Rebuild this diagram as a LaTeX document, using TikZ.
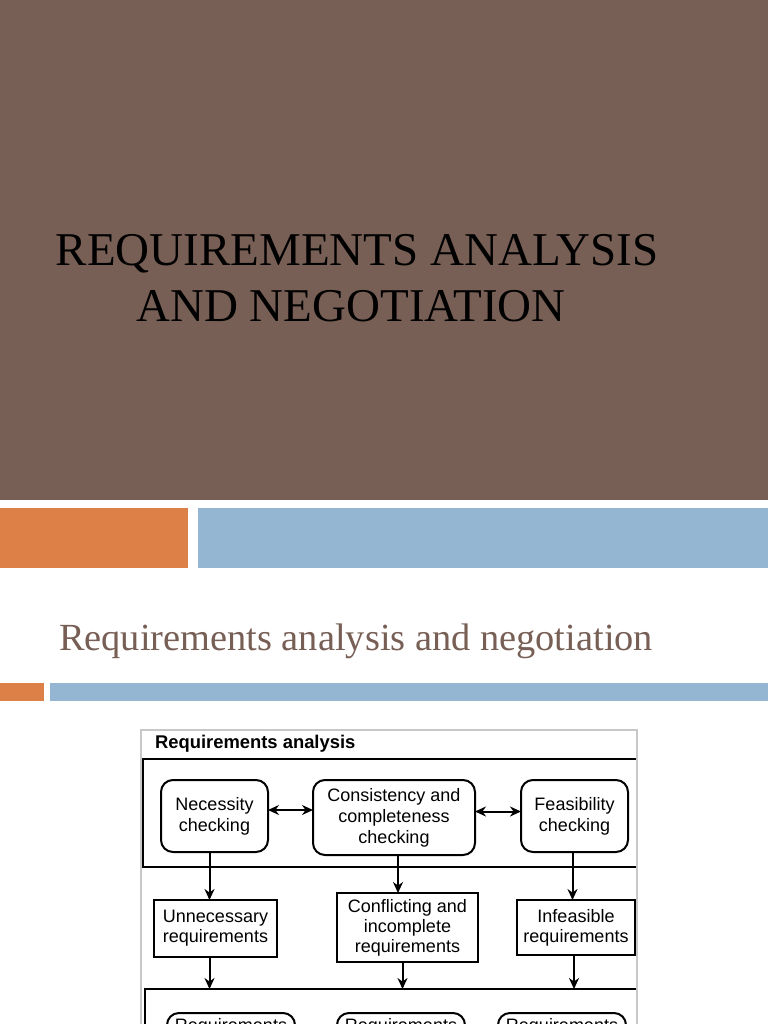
\documentclass[tikz,border=0pt]{standalone}
\usepackage{fontspec}
\setmainfont{Liberation Serif}
\setsansfont{Liberation Sans}
\usepackage{xcolor}
\usepackage{tikz}
\usetikzlibrary{positioning,arrows.meta}
\definecolor{mbrown}{HTML}{775F55}
\definecolor{morange}{HTML}{DD8047}
\definecolor{mblue}{HTML}{94B6D2}
\definecolor{framegray}{HTML}{C8C8C8}

\begin{document}
\begin{tikzpicture}[x=1pt,y=-1pt,
                every node/.append style = {inner sep=0pt, outer sep=0pt},
                chk/.style = {draw, line width=2pt, rounded corners=12pt, align=center,
                    font=\sffamily\fontsize{18}{21}\selectfont},
                res/.style = {draw, line width=2pt, align=center,
                    font=\sffamily\fontsize{18}{20}\selectfont},
                band/.style = {draw, line width=2pt, anchor=north west},
                arr/.style = {line width=2pt, -{Stealth[length=11pt,width=10pt]}},
                dbl/.style = {line width=2pt, {Stealth[length=11pt,width=10pt]}-{Stealth[length=11pt,width=10pt]}}]
            \useasboundingbox (0,0) rectangle (768,1024);
            \fill[white] (0,0) rectangle (768,1024);
            \fill[mbrown] (0,0) rectangle (768,500);
            \fill[morange] (0,508) rectangle (188,568);
            \fill[mblue] (198,508) rectangle (768,568);
            \fill[morange] (0,683) rectangle (44,701);
            \fill[mblue] (50,683) rectangle (768,701);
            \node[anchor=base, font=\fontsize{47}{56}\selectfont] (t1) at (357,265) {REQUIREMENTS ANALYSIS};
            \node[anchor=base, font=\fontsize{47}{56}\selectfont] (t2) at (351,321) {AND NEGOTIATION};
            \node[anchor=base west, text=mbrown, font=\fontsize{38.4}{44}\selectfont] (sub) at (59,650)
                {Requirements analysis and negotiation};
            \begin{scope}
            \clip (141,730) rectangle (636,1024);
            \node[anchor=base west, font=\sffamily\bfseries\fontsize{18.4}{20}\selectfont] (hd) at (155,748)
                {Requirements analysis};
            \node[band, minimum width=520pt, minimum height=108pt] (ana) at (143,759) {};
            \node[band, minimum width=520pt, minimum height=100pt] (neg) at (145,989) {};
            \node[chk, minimum width=107pt, minimum height=72pt] (nec) at (214.5,816)
                {Necessity\\checking};
            \node[chk, minimum width=162pt, minimum height=75pt] (cons) at (394,817.5)
                {Consistency and\\completeness\\checking};
            \node[chk, minimum width=107pt, minimum height=72pt] (feas) at (574.5,816)
                {Feasibility\\checking};
            \node[res, minimum width=123pt, minimum height=57pt] (unn) at (215.5,928.5)
                {Unnecessary\\requirements};
            \node[res, minimum width=141pt, minimum height=69pt] (conf) at (407.5,927.5)
                {Conflicting and\\incomplete\\requirements};
            \node[res, minimum width=118pt, minimum height=55pt] (infe) at (576,927.5)
                {Infeasible\\requirements};
            \node[chk, anchor=north, minimum width=128pt, inner ysep=5pt] (disc) at (231,1013)
                {Requirements\\discussion};
            \node[chk, anchor=north, minimum width=128pt, inner ysep=5pt] (prio) at (401,1013)
                {Requirements\\prioritization};
            \node[chk, anchor=north, minimum width=128pt, inner ysep=5pt] (agr) at (562,1013)
                {Requirements\\agreement};
            \draw[dbl] ([yshift=6pt]nec.east) -- ([yshift=6pt]nec.east -| cons.west);
            \draw[dbl] ([yshift=6pt]cons.east) -- ([yshift=6pt]cons.east -| feas.west);
            \draw[arr] ([xshift=-5pt]nec.south) -- ([xshift=-5pt]nec.south |- unn.north);
            \draw[arr] ([xshift=4pt]cons.south) -- ([xshift=4pt]cons.south |- conf.north);
            \draw[arr] ([xshift=-2pt]feas.south) -- ([xshift=-2pt]feas.south |- infe.north);
            \draw[arr] ([xshift=-6pt]unn.south) -- ([xshift=-6pt]unn.south |- neg.north);
            \draw[arr] ([xshift=-5pt]conf.south) -- ([xshift=-5pt]conf.south |- neg.north);
            \draw[arr] ([xshift=-2pt]infe.south) -- ([xshift=-2pt]infe.south |- neg.north);
            \end{scope}
            \draw[framegray, line width=1.2pt] (141,730) rectangle (637,1030);
            \end{tikzpicture}
\end{document}
